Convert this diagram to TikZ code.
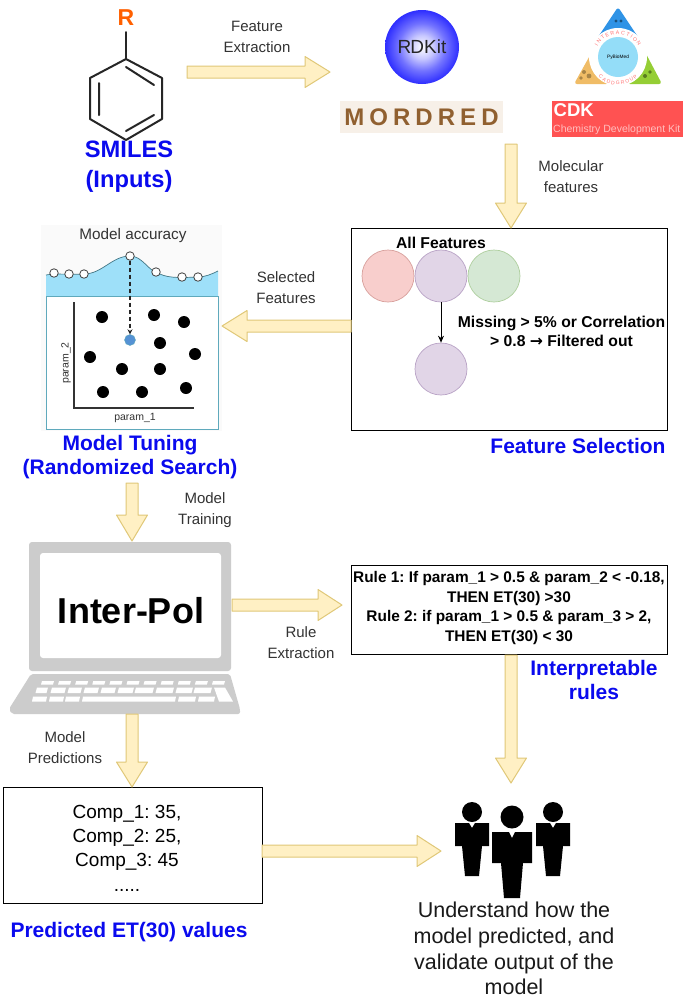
\documentclass[tikz,border=0pt]{standalone}
\usepackage{fontspec}
\setmainfont{Liberation Sans}
\newfontfamily\dejavu{DejaVu Sans}
\newfontfamily\spaced[LetterSpace=21]{Liberation Sans}
\usetikzlibrary{calc,arrows.meta,decorations.text,positioning}
\definecolor{arrowfill}{HTML}{FFF0C4}
\definecolor{arrowline}{HTML}{E0C878}
\definecolor{titleblue}{HTML}{0A0AEE}
\definecolor{keygray}{HTML}{CCCCCC}
\definecolor{tealline}{HTML}{5FA9BC}
\definecolor{redf}{HTML}{F8CECC}\definecolor{redl}{HTML}{D8A09C}
\definecolor{violetf}{HTML}{E1D5E7}\definecolor{violetl}{HTML}{B9A3C6}
\definecolor{greenf}{HTML}{D5E8D4}\definecolor{greenl}{HTML}{AFCF9F}
\pgfdeclareradialshading{rdshade}{\pgfpoint{0bp}{0bp}}{color(0bp)=(white);color(8bp)=(blue!22!white);color(16bp)=(blue!55!white);color(25bp)=(blue!82!white);color(50bp)=(blue!82!white)}
\tikzset{
 barrow/.style={draw=arrowline,fill=arrowfill,line width=1pt,line join=round},
 lbl/.style={font=\fontsize{15}{21}\selectfont,align=center,text=black!80,inner sep=0pt},
 title/.style={font=\fontsize{21}{24.5}\selectfont\bfseries,align=center,text=titleblue,inner sep=0pt},
 boxn/.style={draw=black,line width=0.9pt,fill=white,inner sep=0pt,outer sep=0pt,align=center},
 bold/.style={font=\fontsize{15.7}{19}\selectfont\bfseries,align=center,inner sep=0pt},
 dot/.style={circle,fill=black,minimum size=12pt,inner sep=0pt},
 opn/.style={circle,draw=black!75,fill=white,line width=0.8pt,minimum size=8.5pt,inner sep=0pt},
 fc/.style={circle,draw=#1l,fill=#1f,line width=0.7pt,minimum size=52pt,inner sep=0pt},
 person/.style={fill=black,draw=none},
 key/.style={fill=white,draw=none},
 bond/.style={draw=black!85,line width=2pt,line cap=round,line join=round},
}
\newcommand{\blockarrow}[4][6]{%
 \coordinate (hb) at ($(#3)!#4pt!(#2)$);
 \draw[barrow] ($(#2)!#1pt!90:(#3)$) -- ($(hb)!#1pt!90:(#3)$) -- ($(hb)!15.5pt!90:(#3)$) -- (#3)
   -- ($(hb)!15.5pt!-90:(#3)$) -- ($(hb)!#1pt!-90:(#3)$) -- ($(#2)!#1pt!-90:(#3)$) -- cycle;}
\newcommand{\personfig}[2]{%
 \begin{scope}[shift={(#1,#2)}]
 \fill[person] (0,-11) circle (10);
 \fill[person] (-17,0) -- (-3,0) -- (0,5) -- (3,0) -- (17,0) -- (17,23) -- (10,23) -- (7,53) -- (-7,53) -- (-10,23) -- (-17,23) -- cycle;
 \end{scope}}
\frenchspacing
\begin{document}
\begin{tikzpicture}[x=1pt,y=-1pt]
\useasboundingbox (0,0) rectangle (685,997);
\fill[white] (0,0) rectangle (685,997);

% ---- benzene
\node[inner sep=0pt,text=orange!75!red,font=\fontsize{23}{23}\selectfont\bfseries] (r) at (126,18) {R};
\coordinate (b1) at (126,59);\coordinate (b2) at (162,78);\coordinate (b3) at (162,119);
\coordinate (b4) at (126,140);\coordinate (b5) at (90,119);\coordinate (b6) at (90,78);
\draw[bond] (126,32) -- (b1);
\draw[bond] (b1) -- (b2) -- (b3) -- (b4) -- (b5) -- (b6) -- cycle;
\draw[bond] (126,67) -- (154,85) (154,115) -- (126,131) (99,115) -- (99,83);
\node[title,font=\fontsize{23.7}{30}\selectfont\bfseries] (smiles) at (129,167) {SMILES\\(Inputs)};

% ---- logos
\node[circle,minimum size=74pt,inner sep=0pt,shading=rdshade] (rdkit) at (422,47) {};
\fill[white] (447,12) -- (458,16) -- (451,23) -- (448,18) -- cycle;
\node[inner sep=0pt,font=\fontsize{19}{19}\selectfont,text=black!85] at (rdkit) {R\kern-1ptDKit};
\node[fill=brown!12!white,inner sep=0pt,minimum width=163pt,minimum height=32pt,text=brown!75!black,font=\fontsize{24}{24}\spaced\bfseries] (mordred) at (421.5,117) {MORDRED};
\node[fill=red!68!white,inner sep=0pt,minimum width=131pt,minimum height=36pt] (cdk) at (617.5,119) {};
\node[inner sep=0pt,text=white,font=\fontsize{18.5}{18.5}\selectfont\bfseries,anchor=west] (cdkt) at (553.5,110) {CDK};
\node[inner sep=0pt,text=white!75!red,font=\fontsize{10.5}{11}\selectfont,anchor=west] (cdks) at (553,130) {Chemistry Development Kit};
% PyBioMed logo
\definecolor{pyblue}{HTML}{2F93E6}\definecolor{pyorange}{HTML}{F0BC66}\definecolor{pygreen}{HTML}{95CE35}
\fill[pyblue,rounded corners=3pt] (618,7) -- (640,40) -- (596,40) -- cycle;
\fill[pyorange,rounded corners=3pt] (593,50) -- (574,84) -- (609,84) -- (600,70) -- cycle;
\fill[pygreen,rounded corners=3pt] (644,50) -- (662,84) -- (627,84) -- (636,70) -- cycle;
\fill[white] (618,57) circle (29);
\node[circle,fill=cyan!42!white,minimum size=40pt,inner sep=0pt,font=\fontsize{4.8}{5}\selectfont] (pymed) at (618,57) {PyBioMed};
\path[decorate,decoration={text along path,text={|\fontsize{5.2}{6}\selectfont\color{red!55!white}|I N T E R A C T I O N},text align=center}] (595,57) arc[start angle=180,end angle=0,radius=23pt];
\path[decorate,decoration={text along path,text={|\fontsize{5}{6}\selectfont\color{red!55!white}|C A D D  G R O U P},text align=center}] (590,57) arc[start angle=180,end angle=360,radius=28pt];
\fill[pyorange!70!black] (584,72) circle (2) (589,76) circle (2.4) (581,78) circle (1.8);
\fill[pygreen!60!black] (645,76) circle (2) (650,72) circle (1.8);
\fill[pyblue!55!black] (616,21) circle (1.6) (621,21) circle (1.6);

% ---- feature selection
\node[boxn,minimum width=316pt,minimum height=202pt] (fsel) at (509,329) {};
\node[fc=red] (c1) at (388,276) {};
\node[fc=green] (c3) at (494,276) {};
\node[fc=violet] (c2) at (441,276) {};
\node[fc=violet] (c4) at (441,369) {};
\draw[-{Stealth[length=7pt,width=6pt]},line width=0.9pt] (c2) -- (c4);
\node[bold] (allf) at (441,243) {All Features};
\node[bold] (miss) at (561.5,331) {Missing > 5\% or Correlation\\> 0.8 {\dejavu→} Filtered out};
\node[title] (fst) at (578,446) {Feature Selection};

% ---- model tuning
\fill[black!2] (41,225) rectangle (222,431);
\fill[cyan!38!white] (46,296) -- (46,275) .. controls (56,273) and (70,275) .. (84,274) .. controls (102,274) and (112,256) .. (130,256) .. controls (142,256) and (148,270) .. (156,272) .. controls (166,278) and (176,278) .. (198,277) .. controls (205,277) and (212,274) .. (218,271) -- (218,296) -- cycle;
\draw[tealline!70!black,line width=0.7pt] (46,275) .. controls (56,273) and (70,275) .. (84,274) .. controls (102,274) and (112,256) .. (130,256) .. controls (142,256) and (148,270) .. (156,272) .. controls (166,278) and (176,278) .. (198,277) .. controls (205,277) and (212,274) .. (218,271);
\node[draw=tealline,line width=1pt,fill=white,inner sep=0pt,minimum width=172pt,minimum height=133pt] (tune) at (132,362.5) {};
\node[inner sep=0pt,font=\fontsize{15.3}{16}\selectfont,text=black!80] (acc) at (133,236) {Model accuracy};
\foreach \n/\x/\y in {o1/54/273,o2/69/274,o3/84/274,o5/156/272,o6/182/277,o7/198/277} \node[opn] (\n) at (\x,\y) {};
\node[opn] (o4) at (130,256) {};
\node[circle,fill=cyan!55!blue!70!white,draw=tealline,minimum size=11pt,inner sep=0pt] (best) at (130,340) {};
\draw[dash pattern=on 4pt off 3pt,-{Stealth[length=5pt,width=5pt]},line width=1.1pt,black!85] (o4) -- (best);
\foreach \x/\y [count=\i] in {102/317,154/315,184/322,160/343,195/354,90/357,122/369,160/369,103/392,142/392,186/388} \node[dot] (d\i) at (\x,\y) {};
\coordinate (ax0) at (74,408);\coordinate (axy) at (74,302);\coordinate (axx) at (194,408);
\draw[line width=1.2pt,black!80] (axy) -- (ax0) -- (axx);
\node[inner sep=0pt,rotate=90,font=\fontsize{10.5}{11}\selectfont,text=black!80] (p2) at (66,363) {param\_2};
\node[inner sep=0pt,font=\fontsize{10.5}{11}\selectfont,text=black!80] (p1) at (135,418) {param\_1};
\node[title] (tunet) at (130,457) {Model Tuning\\(Randomized Search)};

% ---- laptop
\node[fill=keygray,rounded corners=3pt,inner sep=0pt,minimum width=202pt,minimum height=129pt] (lap) at (130,606.5) {};
\node[fill=white,rounded corners=3pt,inner sep=0pt,minimum width=181pt,minimum height=105pt] (screen) at (130.5,605.5) {};
\node[inner sep=0pt,font=\fontsize{36}{36}\selectfont\bfseries] (brand) at (131,611) {Inter-Pol};
\fill[keygray,rounded corners=2pt] (31,674) -- (230,674) -- (240,709) -- (240,714) -- (12,714) -- (9,709) -- cycle;
\foreach \i in {0,...,10} \fill[key] ({42+\i*17.1},681) -- ({54+\i*17.1},681) -- ({53+\i*17.1},684.5) -- ({41+\i*17.1},684.5) -- cycle;
\foreach \xa/\xb in {37/48,52/66,69/82,85/99,102/116,119/134,136/154,157/174,177/193,195/212} \fill[key] (\xa,687.5) -- (\xb,687.5) -- ({\xb-1.5},693) -- ({\xa-1.5},693) -- cycle;
\fill[key] (214,687.5) -- (225,687.5) -- (233,701.5) -- (219,701.5) -- cycle;
\foreach \xa/\xb in {33/47,50/64,66/80,83/176,179/196,199/215} \fill[key] (\xa,696.5) -- (\xb,696.5) -- ({\xb-1},701.5) -- ({\xa-1},701.5) -- cycle;

% ---- rules and predictions
\node[boxn,minimum width=316pt,minimum height=89pt] (rules) at (509,609.5) {};
\node[inner sep=0pt,align=center,font=\fontsize{15.4}{19.8}\selectfont\bfseries] (rulest) at (509,608) {Rule 1: If param\_1 > 0.5 \& param\_2 < -0.18,\\THEN ET(30) >30\\Rule 2: if param\_1 > 0.5 \& param\_3 > 2,\\THEN ET(30) < 30};
\node[title] (rulet) at (594,680) {Interpretable\\rules};
\node[boxn,minimum width=259pt,minimum height=116pt] (pred) at (132.5,845) {};
\node[inner sep=0pt,align=center,font=\fontsize{19}{24.4}\selectfont] (predl) at (127,848) {Comp\_1: 35,\\Comp\_2: 25,\\Comp\_3: 45\\.....};
\node[title] (predt) at (129,932) {Predicted ET(30) values};

% ---- people
\personfig{472}{823}
\personfig{553}{823}
\begin{scope}[shift={(512,832)}]
 \fill[person] (0,-15) circle (11.5);
 \fill[person] (-20,0) -- (-3,0) -- (0,6) -- (3,0) -- (20,0) -- (20,31) -- (11,31) -- (8,66) -- (-8,66) -- (-11,31) -- (-20,31) -- cycle;
\end{scope}
\node[inner sep=0pt,align=center,font=\fontsize{21.5}{25.8}\selectfont,text=black!90] (under) at (514,948.5) {Understand how the\\model predicted, and\\validate output of the\\model};
\coordinate (team) at (511,783);
\coordinate (teamw) at (441,851);

% ---- block arrows
\coordinate (a1s) at (187,72);\coordinate (a1e) at (330,72);
\blockarrow{a1s}{a1e}{25}
\coordinate (a2s) at (511,144);\coordinate (a2e) at (511,228);
\blockarrow{a2s}{a2e}{25}
\coordinate (a3s) at (351,326);\coordinate (a3e) at (222,326);
\blockarrow{a3s}{a3e}{25}
\coordinate (a4s) at (132,483);\coordinate (a4e) at (132,541);
\blockarrow{a4s}{a4e}{26}
\coordinate (a5s) at (232,605);\coordinate (a5e) at (342,605);
\blockarrow{a5s}{a5e}{24}
\coordinate (a6s) at (511,655);
\blockarrow{a6s}{team}{25}
\coordinate (a7s) at (132,714);\coordinate (a7e) at (132,787);
\blockarrow{a7s}{a7e}{25}
\coordinate (a8s) at (262,851);
\blockarrow{a8s}{teamw}{24}

% ---- labels
\node[lbl] (l1) at (257,36.5) {Feature\\Extraction};
\node[lbl] (l2) at (571,177) {Molecular\\features};
\node[lbl] (l3) at (286,287.5) {Selected\\Features};
\node[lbl] (l4) at (205,510) {Model\\Training};
\node[lbl] (l5) at (301,642.5) {Rule\\Extraction};
\node[lbl] (l6) at (65,748) {Model\\Predictions};
\end{tikzpicture}
\end{document}
